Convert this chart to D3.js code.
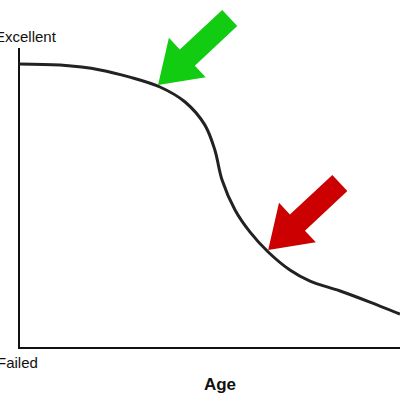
<!DOCTYPE html>
<html><head><meta charset="utf-8">
<script src="https://cdn.jsdelivr.net/npm/d3@7"></script>
<style>body{margin:0;background:#fff}</style></head>
<body><svg id="c" width="400" height="400"></svg>
<script>
const ages = [0,10.8,21.3,29.1,37,43.6,48.8,51.4,53.3,56.7,60.6,65.4,71.1,76.4,84.3,92.1,100];
const condition = [94.7,94.3,92.7,90.3,87,82,74.3,66,56,46,38.7,32,26,22.3,19,15.3,11.3];
const arrowNames = ["green","red"];
const arrowTipAge = [36.5,65.4];
const arrowTipCond = [87.7,32.7];
const arrowColors = ["#11cc11","#cc0000"];
const yLabels = ["Failed","Excellent"];
const xLabel = "Age";

const svg = d3.select("#c");
const x = d3.scaleLinear().domain([0,100]).range([19,400]);
const y = d3.scaleLinear().domain([0,100]).range([348,48]);

svg.append("line").attr("x1",x(0)).attr("x2",x(0)).attr("y1",y(0)+1).attr("y2",y(100)).attr("stroke","#111").attr("stroke-width",2);
svg.append("line").attr("x1",x(0)-1).attr("x2",x(100)).attr("y1",y(0)).attr("y2",y(0)).attr("stroke","#111").attr("stroke-width",2);

const line = d3.line().x((d,i)=>x(ages[i])).y((d,i)=>y(condition[i])).curve(d3.curveCatmullRom.alpha(0.5));
svg.append("path").attr("d",line(ages)).attr("fill","none").attr("stroke","#222").attr("stroke-width",3);

// arrow polygon in local coords, pointing along +x with tip at origin
const L=98, hl=40, hw=27, sw=11;
const poly = [[0,0],[-hl,-hw],[-hl,-sw],[-L,-sw],[-L,sw],[-hl,sw],[-hl,hw]];
arrowNames.forEach((n,i)=>{
  const ang = 180 - 43; // pointing down-left
  svg.append("polygon").attr("points",poly.map(p=>p.join(",")).join(" "))
    .attr("fill",arrowColors[i])
    .attr("transform",`translate(${x(arrowTipAge[i])},${y(arrowTipCond[i])}) rotate(${ang})`);
});

svg.append("text").attr("x",-5).attr("y",42).text(yLabels[1]).attr("font-family","Liberation Sans, Arial, sans-serif").attr("font-size",15).attr("fill","#111");
svg.append("text").attr("x",-3).attr("y",368).text(yLabels[0]).attr("font-family","Liberation Sans, Arial, sans-serif").attr("font-size",15).attr("fill","#111");
svg.append("text").attr("x",220).attr("y",390).attr("text-anchor","middle").text(xLabel).attr("font-family","Liberation Sans, Arial, sans-serif").attr("font-size",17).attr("font-weight","bold").attr("fill","#111");
</script></body></html>
